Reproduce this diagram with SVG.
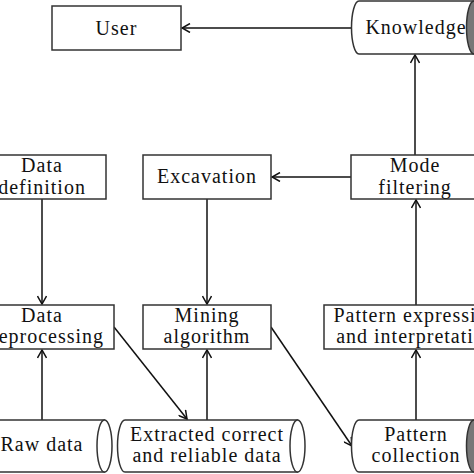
<svg xmlns="http://www.w3.org/2000/svg" width="474" height="474" viewBox="0 0 474 474">
<style>
.box{fill:#fff;stroke:#333;stroke-width:1.5}
.cyl{fill:#fff;stroke:#333;stroke-width:1.5}
.end{fill:#fff;stroke:#333;stroke-width:1.5}
.dark{fill:#777;stroke:#333;stroke-width:1.5}
.t{font-family:"Liberation Serif","Times New Roman",serif;font-size:20px;letter-spacing:1px;fill:#111;text-anchor:middle}
.c{stroke:#111;stroke-width:1.5;fill:none;marker-end:url(#a)}
</style>
<defs>
<marker id="a" viewBox="0 0 10 10" refX="9" refY="5" markerWidth="10" markerHeight="10" markerUnits="userSpaceOnUse" orient="auto">
<path d="M1,0.5 L9,5 L1,9.5" fill="none" stroke="#111" stroke-width="1.5"/>
</marker>
</defs>
<rect width="474" height="474" fill="#fff"/>
<g id="connectors">
<line class="c" x1="351" y1="28" x2="182" y2="28"/>
<line class="c" x1="415" y1="155" x2="415" y2="55"/>
<line class="c" x1="351" y1="177" x2="272" y2="177"/>
<line class="c" x1="416" y1="305" x2="416" y2="200"/>
<line class="c" x1="416" y1="420" x2="416" y2="350"/>
<line class="c" x1="42" y1="199" x2="42" y2="304"/>
<line class="c" x1="42" y1="420" x2="42" y2="350"/>
<line class="c" x1="207" y1="199" x2="207" y2="304"/>
<line class="c" x1="207" y1="420" x2="207" y2="350"/>
<line class="c" x1="114" y1="327" x2="187" y2="419"/>
<line class="c" x1="271" y1="327" x2="352" y2="446"/>
</g>
<g id="user">
<rect class="box" x="52" y="6" width="129" height="44"/>
<text class="t" x="116.5" y="35">User</text>
</g>
<g id="knowledge">
<path class="cyl" d="M359,1 L474,1 L474,54 L359,54 A7.5,26.5 0 0 1 359,1 Z"/>
<ellipse class="dark" cx="474" cy="27.5" rx="7.5" ry="26.5"/>
<text class="t" x="416" y="34">Knowledge</text>
</g>
<g id="data-definition">
<rect class="box" x="-22" y="155" width="128" height="44"/>
<text class="t" x="42" y="172">Data</text>
<text class="t" x="42" y="194">definition</text>
</g>
<g id="excavation">
<rect class="box" x="143" y="155" width="128" height="44"/>
<text class="t" x="207" y="183">Excavation</text>
</g>
<g id="mode-filtering">
<rect class="box" x="351" y="155" width="128" height="44"/>
<text class="t" x="415" y="172">Mode</text>
<text class="t" x="415" y="194">filtering</text>
</g>
<g id="data-preprocessing">
<rect class="box" x="-30" y="305" width="144" height="44"/>
<text class="t" x="42" y="322">Data</text>
<text class="t" x="42" y="343">preprocessing</text>
</g>
<g id="mining-algorithm">
<rect class="box" x="143" y="305" width="128" height="44"/>
<text class="t" x="207" y="322">Mining</text>
<text class="t" x="207" y="343">algorithm</text>
</g>
<g id="pattern-expression">
<rect class="box" x="324" y="305" width="184" height="44"/>
<text class="t" x="416" y="322">Pattern expression</text>
<text class="t" x="416" y="343">and interpretation</text>
</g>
<g id="raw-data">
<path class="cyl" d="M-20,420 L104.5,420 L104.5,472 L-20,472 Z"/>
<ellipse class="end" cx="104.5" cy="446" rx="7.5" ry="26"/>
<text class="t" x="42" y="451">Raw data</text>
</g>
<g id="extracted-data">
<path class="cyl" d="M125,420 L297.5,420 L297.5,472 L125,472 A7.5,26 0 0 1 125,420 Z"/>
<ellipse class="end" cx="297.5" cy="446" rx="7.5" ry="26"/>
<text class="t" x="207" y="441">Extracted correct</text>
<text class="t" x="207" y="462">and reliable data</text>
</g>
<g id="pattern-collection">
<path class="cyl" d="M359,420 L474,420 L474,472 L359,472 A7.5,26 0 0 1 359,420 Z"/>
<ellipse class="dark" cx="474" cy="446" rx="7.5" ry="26"/>
<text class="t" x="416" y="441">Pattern</text>
<text class="t" x="416" y="462">collection</text>
</g>
</svg>
